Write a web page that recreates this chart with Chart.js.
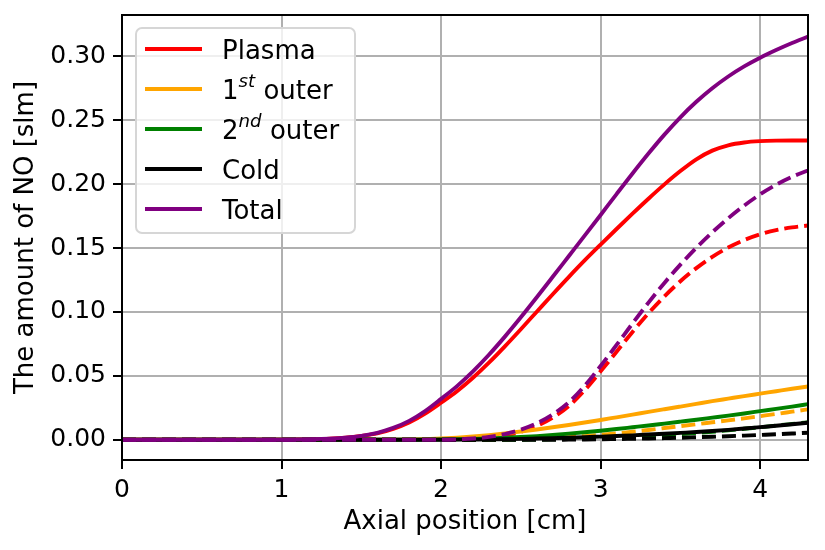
<!DOCTYPE html>
<html><head><meta charset="utf-8">
<script src="https://cdn.jsdelivr.net/npm/chart.js@4/dist/chart.umd.min.js"></script>
<style>html,body{margin:0;padding:0;background:#fff}</style>
</head><body>
<canvas id="c" width="825" height="550"></canvas>
<script>
// ---- data ----
const xPositions = [0,0.1,0.2,0.3,0.4,0.5,0.6,0.7,0.8,0.9,1.0,1.1,1.2,1.3,1.4,1.5,1.6,1.7,1.8,1.9,2.0,2.1,2.2,2.3,2.4,2.5,2.6,2.7,2.8,2.9,3.0,3.1,3.2,3.3,3.4,3.5,3.6,3.7,3.8,3.9,4.0,4.1,4.2,4.3];

const plasmaSolid = [0,0,0,0,0,0,0,0,0,0,0,0.0002,0.0004,0.0008,0.0016,0.003,0.005,0.0085,0.0135,0.0205,0.029,0.038,0.0485,0.0603,0.0731,0.0865,0.1002,0.1139,0.1273,0.1403,0.1527,0.1649,0.1769,0.1886,0.1998,0.2102,0.2194,0.2262,0.2304,0.2326,0.2336,0.234,0.2341,0.2341];
const plasmaDashed = [0,0,0,0,0,0,0,0,0,0,0,0,0,0,0,0,0,0,0,0,0,0,0.0005,0.0015,0.0033,0.0063,0.0108,0.0173,0.0263,0.0388,0.0536,0.0689,0.0844,0.099,0.1122,0.124,0.1343,0.1431,0.1504,0.1562,0.1607,0.164,0.1662,0.1676];
const outer1Solid = [0,0,0,0,0,0,0,0,0,0,0,0,0,0,0,0,0,0.0001,0.0002,0.0005,0.001,0.0017,0.0026,0.0037,0.005,0.0065,0.0081,0.0098,0.0116,0.0135,0.0155,0.0176,0.0197,0.0218,0.0239,0.026,0.0281,0.0302,0.0322,0.0342,0.0361,0.038,0.0399,0.0417];
const outer1Dashed = [0,0,0,0,0,0,0,0,0,0,0,0,0,0,0,0,0,0,0,0,0,0,0,0,0.0003,0.0006,0.001,0.0015,0.0021,0.0029,0.0039,0.005,0.0063,0.0077,0.0092,0.0107,0.0122,0.0137,0.0152,0.0168,0.0185,0.0202,0.022,0.0238];
const outer2Solid = [0,0,0,0,0,0,0,0,0,0,0,0,0,0,0,0,0,0,0,0.0001,0.0002,0.0004,0.0007,0.0011,0.0016,0.0022,0.0029,0.0038,0.0048,0.0059,0.0071,0.0084,0.0098,0.0112,0.0127,0.0142,0.0157,0.0173,0.0189,0.0206,0.0224,0.0242,0.026,0.0279];
const outer2Dashed = [0,0,0,0,0,0,0,0,0,0,0,0,0,0,0,0,0,0,0,0,0,0,0,0,0,0,0.0002,0.0004,0.0007,0.001,0.0014,0.0019,0.0024,0.003,0.0036,0.0044,0.0053,0.0063,0.0074,0.0086,0.0098,0.0111,0.0124,0.0137];
const coldSolid = [0,0,0,0,0,0,0,0,0,0,0,0,0,0,0,0,0,0,0,0,0,0.0001,0.0002,0.0003,0.0005,0.0007,0.001,0.0013,0.0016,0.002,0.0025,0.003,0.0035,0.0041,0.0047,0.0054,0.0061,0.0069,0.0078,0.0088,0.0099,0.011,0.0122,0.0134];
const coldDashed = [0,0,0,0,0,0,0,0,0,0,0,0,0,0,0,0,0,0,0,0,0,0,0,0,0,0,0,0,0.0001,0.0002,0.0004,0.0006,0.0008,0.001,0.0013,0.0016,0.002,0.0024,0.0028,0.0033,0.0038,0.0043,0.0049,0.0055];
const totalSolid = [0,0,0,0,0,0,0,0,0,0,0,0.0002,0.0004,0.0009,0.0017,0.0031,0.0055,0.0093,0.0148,0.0225,0.032,0.042,0.0535,0.0665,0.0807,0.0958,0.1115,0.1275,0.1436,0.1597,0.1759,0.1922,0.2083,0.2239,0.2387,0.2523,0.2644,0.275,0.2842,0.2921,0.2989,0.3049,0.3104,0.3154];
const totalDashed = [0,0,0,0,0,0,0,0,0,0,0,0,0,0,0,0,0,0,0,0,0,0.0003,0.001,0.0023,0.0045,0.0079,0.0129,0.0199,0.0292,0.0422,0.0577,0.0742,0.091,0.1073,0.1227,0.137,0.1502,0.1623,0.1733,0.1832,0.192,0.1995,0.2057,0.2107];

const legendLabels = ['Plasma', '1^{st} outer', '2^{nd} outer', 'Cold', 'Total'];
const seriesColors = ['#ff0000', '#ffa500', '#008000', '#000000', '#800080'];
const xTickValues = [0, 1, 2, 3, 4];
const yTickValues = [0, 0.05, 0.10, 0.15, 0.20, 0.25, 0.30];
const xTitle = 'Axial position [cm]';
const yTitle = 'The amount of NO [slm]';
const xMin = 0, xMax = 4.3, yMin = -0.0158, yMax = 0.3323;

// ---- build chart ----
const FONT = 'DejaVu Sans';
const LW = 3.9;
const DASH = [14, 6];
function pts(arr) { return xPositions.map((x, i) => ({x: x, y: arr[i]})); }
const seriesPairs = [
  [plasmaSolid, plasmaDashed],
  [outer1Solid, outer1Dashed],
  [outer2Solid, outer2Dashed],
  [coldSolid, coldDashed],
  [totalSolid, totalDashed]
];
const datasets = [];
let k = 0;
seriesPairs.forEach((pair, si) => {
  pair.forEach((arr, j) => {
    datasets.push({
      label: j === 0 ? legendLabels[si] : legendLabels[si] + ' (dashed)',
      data: pts(arr),
      borderColor: seriesColors[si],
      backgroundColor: seriesColors[si],
      borderWidth: LW,
      borderDash: j === 0 ? [] : DASH,
      borderCapStyle: j === 0 ? 'square' : 'butt',
      pointRadius: 0,
      cubicInterpolationMode: 'monotone',
      fill: false,
      order: 100 - (k++)
    });
  });
});

const frame = {
  id: 'frame',
  afterDatasetsDraw(chart) {
    const {ctx, chartArea: a} = chart;
    ctx.save();
    ctx.strokeStyle = '#000';
    ctx.lineWidth = 2;
    ctx.strokeRect(a.left, a.top, a.right - a.left, a.bottom - a.top);
    ctx.restore();
  }
};

const innerLegend = {
  id: 'innerLegend',
  afterDraw(chart) {
    const ctx = chart.ctx;
    const bx = 136, by = 28, bw = 219, bh = 205, r = 6;
    ctx.save();
    ctx.beginPath();
    ctx.moveTo(bx + r, by);
    ctx.arcTo(bx + bw, by, bx + bw, by + bh, r);
    ctx.arcTo(bx + bw, by + bh, bx, by + bh, r);
    ctx.arcTo(bx, by + bh, bx, by, r);
    ctx.arcTo(bx, by, bx + bw, by, r);
    ctx.closePath();
    ctx.fillStyle = 'rgba(255,255,255,0.8)';
    ctx.fill();
    ctx.strokeStyle = '#d6d6d6';
    ctx.lineWidth = 2;
    ctx.stroke();
    legendLabels.forEach((lab, i) => {
      const y = 49 + i * 40;
      ctx.beginPath();
      ctx.strokeStyle = seriesColors[i];
      ctx.lineWidth = LW;
      ctx.moveTo(145, y);
      ctx.lineTo(202, y);
      ctx.stroke();
      ctx.fillStyle = '#000';
      ctx.textBaseline = 'alphabetic';
      ctx.textAlign = 'left';
      const base = y + 9.5;
      let x = 222;
      const m = lab.match(/^(.*?)\^\{(.*?)\}(.*)$/);
      if (m) {
        ctx.font = '26px "' + FONT + '"';
        ctx.fillText(m[1], x, base);
        x += ctx.measureText(m[1]).width;
        ctx.font = 'italic 18.2px "' + FONT + '"';
        ctx.fillText(m[2], x, base - 12);
        x += ctx.measureText(m[2]).width;
        ctx.font = '26px "' + FONT + '"';
        ctx.fillText(m[3], x, base);
      } else {
        ctx.font = '26px "' + FONT + '"';
        ctx.fillText(lab, x, base);
      }
    });
    ctx.restore();
  }
};

new Chart(document.getElementById('c'), {
  type: 'line',
  data: { datasets },
  options: {
    responsive: false,
    devicePixelRatio: 1,
    animation: false,
    layout: { padding: { left: 0, top: 15, right: 17, bottom: 0 } },
    plugins: { legend: { display: false }, tooltip: { enabled: false } },
    scales: {
      x: {
        type: 'linear', min: xMin, max: xMax,
        afterFit(s) { s.height = 90; s.paddingLeft = 0; s.paddingRight = 0; },
        afterBuildTicks(s) { s.ticks = xTickValues.map(v => ({value: v})); },
        ticks: { color: '#000', font: { family: FONT, size: 25 }, padding: 6, maxRotation: 0, autoSkip: false,
                 callback: v => String(v) },
        grid: { color: '#b0b0b0', lineWidth: 2, tickColor: '#000', tickLength: 9, tickWidth: 2, drawTicks: true },
        border: { display: false },
        title: { display: true, text: xTitle, color: '#000', font: { family: FONT, size: 26 }, padding: { top: 0, bottom: 12 } }
      },
      y: {
        type: 'linear', min: yMin, max: yMax,
        afterFit(s) { s.width = 122; s.paddingTop = 0; s.paddingBottom = 0; },
        afterBuildTicks(s) { s.ticks = yTickValues.map(v => ({value: v})); },
        ticks: { color: '#000', font: { family: FONT, size: 25 }, padding: 7, autoSkip: false,
                 callback: v => Number(v).toFixed(2) },
        grid: { color: '#b0b0b0', lineWidth: 2, tickColor: '#000', tickLength: 9, tickWidth: 2, drawTicks: true },
        border: { display: false },
        title: { display: true, text: yTitle, color: '#000', font: { family: FONT, size: 26 }, padding: { top: 11, bottom: 0 } }
      }
    }
  },
  plugins: [frame, innerLegend]
});
</script>
</body></html>
